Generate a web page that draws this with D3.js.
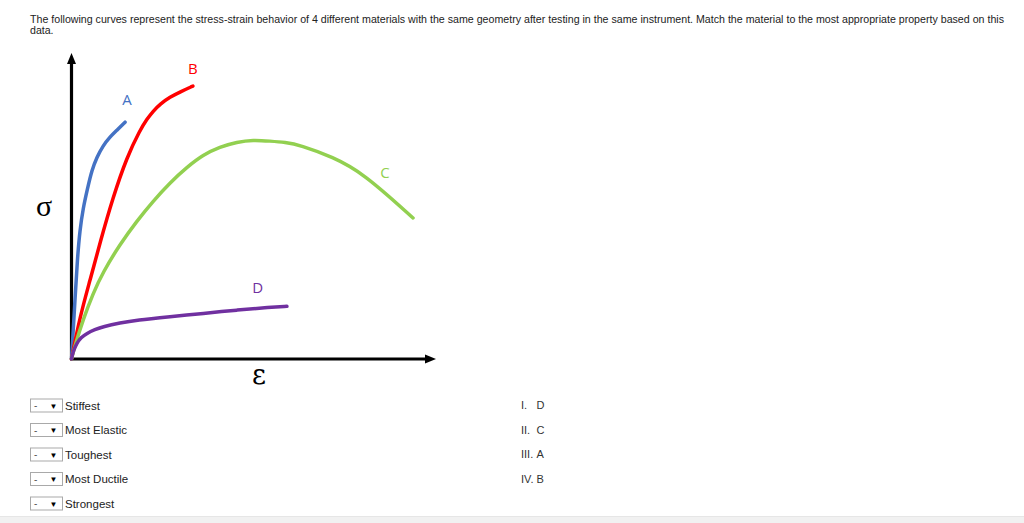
<!DOCTYPE html>
<html>
<head>
<meta charset="utf-8">
<script src="https://cdn.jsdelivr.net/npm/d3@7"></script>
<style>
  body { margin: 0; background: #fff; }
  text { font-family: Arial, "Liberation Sans", sans-serif; }
</style>
</head>
<body>
<script>
// question text
const questionLines = [
  "The following curves represent the stress-strain behavior of 4 different materials with the same geometry after testing in the same instrument. Match the material to the most appropriate property based on this",
  "data."
];

// materials and their curves (strain, stress in arbitrary units 0-100)
const materials = ["A", "B", "C", "D"];
const colors = ["#4472c4", "#ff0000", "#92d050", "#7030a0"];

const strainA = [0, 0.4, 1.0, 1.6, 2.3, 3.2, 4.3, 5.6, 7.0, 8.6, 10.5, 12.5, 14.7];
const stressA = [0, 7.8, 20.3, 32.4, 42.2, 49.3, 55.2, 61.8, 66.0, 69.6, 72.5, 74.8, 77.4];

const strainB = [0, 2.3, 5.1, 7.8, 11.4, 15.2, 18.8, 20.7, 22.4, 24.3, 27.0, 30.0, 33.3];
const stressB = [0, 13.7, 25.8, 37.9, 52.9, 66.0, 74.8, 78.4, 81.0, 83.3, 85.6, 87.4, 89.2];

const strainC = [0, 1.0, 3.2, 5.9, 8.6, 13.3, 18.0, 22.4, 27.0, 31.7, 36.1, 40.7, 45.4, 49.8, 54.5, 58.6, 62.7, 71.7, 80.0, 93.7];
const stressC = [0, 4.6, 12.9, 21.4, 28.3, 37.5, 45.2, 51.6, 57.6, 62.7, 66.7, 69.3, 70.9, 71.6, 71.2, 70.8, 69.9, 66.0, 60.8, 46.1];

const strainD = [0, 0.4, 1.4, 2.6, 4.2, 6.4, 8.7, 13.3, 17.9, 27.0, 36.2, 45.3, 54.5, 59.1];
const stressD = [0, 2.3, 5.1, 7.0, 8.4, 9.6, 10.6, 11.8, 12.7, 13.8, 14.9, 16.0, 16.9, 17.2];

const strains = [strainA, strainB, strainC, strainD];
const stresses = [stressA, stressB, stressC, stressD];

// matching question
const properties = ["Stiffest", "Most Elastic", "Toughest", "Most Ductile", "Strongest"];
const numerals = ["I.", "II.", "III.", "IV."];
const answers = ["D", "C", "A", "B"];

const w = 1024;
const h = 523;
const origin = {x: 71.5, y: 359};

const xScale = d3.scaleLinear().domain([0, 100]).range([origin.x, 436]);
const yScale = d3.scaleLinear().domain([0, 100]).range([origin.y, 53]);

const svg = d3.select("body")
  .append("svg")
    .attr("width", w)
    .attr("height", h);

// question text
svg.selectAll("text.q")
    .data(questionLines)
  .enter().append("text")
    .attr("class", "q")
    .attr("x", 30)
    .attr("y", (d, i) => 23 + i * 11)
    .attr("font-size", 10.6)
    .attr("fill", "#222")
    .attr("textLength", (d, i) => i === 0 ? 974 : null)
    .attr("lengthAdjust", "spacingAndGlyphs")
    .text(d => d);

// axes with arrow heads
const axes = svg.append("g");

axes.append("line")
    .attr("x1", xScale(0)).attr("y1", yScale(0))
    .attr("x2", xScale(0)).attr("y2", yScale(100) + 9)
    .attr("stroke", "#000")
    .attr("stroke-width", 3.2);

axes.append("line")
    .attr("x1", xScale(0) - 1.5).attr("y1", yScale(0))
    .attr("x2", xScale(100) - 9).attr("y2", yScale(0))
    .attr("stroke", "#000")
    .attr("stroke-width", 3.2);

axes.append("path")
    .attr("d", `M${xScale(0)},${yScale(100)} l-4.5,11 l9,0 z`)
    .attr("fill", "#000");

axes.append("path")
    .attr("d", `M${xScale(100)},${yScale(0)} l-11,-4.5 l0,9 z`)
    .attr("fill", "#000");

axes.append("text")
    .attr("x", 44)
    .attr("y", 205)
    .attr("text-anchor", "middle")
    .attr("dominant-baseline", "central")
    .style("font-family", "'Liberation Serif', 'DejaVu Serif', serif")
    .attr("font-size", 30)
    .text("σ");

axes.append("text")
    .attr("x", 259)
    .attr("y", 374)
    .attr("text-anchor", "middle")
    .attr("dominant-baseline", "central")
    .style("font-family", "'DejaVu Serif', serif")
    .attr("font-size", 27)
    .text("ε");

// curves
const line = d3.line()
    .x(d => xScale(d[0]))
    .y(d => yScale(d[1]))
    .curve(d3.curveBasis);

const curveData = materials.map((m, i) => ({
  name: m,
  color: colors[i],
  points: strains[i].map((s, j) => [s, stresses[i][j]])
}));

svg.append("g")
  .selectAll("path")
    .data(curveData)
  .enter().append("path")
    .attr("d", d => line(d.points))
    .attr("fill", "none")
    .attr("stroke", d => d.color)
    .attr("stroke-width", 3.5)
    .attr("stroke-linecap", "round");

// curve labels, offset in px from a chosen point of each curve
const labelAnchor = [{i: 12, dx: 2, dy: -23}, {i: 12, dx: 0, dy: -18},
                     {i: 18, dx: 22, dy: -1}, {i: 11, dx: 21, dy: -23}];

svg.append("g")
  .selectAll("text")
    .data(curveData)
  .enter().append("text")
    .attr("x", (d, k) => xScale(d.points[labelAnchor[k].i][0]) + labelAnchor[k].dx)
    .attr("y", (d, k) => yScale(d.points[labelAnchor[k].i][1]) + labelAnchor[k].dy)
    .attr("text-anchor", "middle")
    .attr("dominant-baseline", "central")
    .style("font-family", "'Open Sans', sans-serif")
    .attr("font-size", 15)
    .attr("fill", d => d.color)
    .text(d => d.name);

// dropdown rows
const rows = svg.append("g")
  .selectAll("g")
    .data(properties)
  .enter().append("g")
    .attr("transform", (d, i) => `translate(0, ${405.5 + i * 24.5})`);

rows.append("rect")
    .attr("x", 30.5).attr("y", -6.5)
    .attr("width", 32).attr("height", 13)
    .attr("fill", "#fff")
    .attr("stroke", "#a9a9a9");

rows.append("text")
    .attr("x", 34).attr("y", 0)
    .attr("dominant-baseline", "central")
    .attr("font-size", 10)
    .attr("fill", "#555")
    .text("-");

rows.append("text")
    .attr("x", 53.5).attr("y", 0.5)
    .attr("text-anchor", "middle")
    .attr("dominant-baseline", "central")
    .attr("font-size", 8)
    .attr("fill", "#000")
    .text("▼");

rows.append("text")
    .attr("x", 65).attr("y", 0)
    .attr("dominant-baseline", "central")
    .attr("font-size", 11.5)
    .attr("fill", "#222")
    .text(d => d);

// answer list
const ans = svg.append("g")
  .selectAll("g")
    .data(answers)
  .enter().append("g")
    .attr("transform", (d, i) => `translate(0, ${405 + i * 24.5})`);

ans.append("text")
    .attr("x", 521).attr("y", 0)
    .attr("dominant-baseline", "central")
    .attr("font-size", 11)
    .attr("fill", "#333")
    .text((d, i) => numerals[i]);

ans.append("text")
    .attr("x", 536.5).attr("y", 0)
    .attr("dominant-baseline", "central")
    .attr("font-size", 11)
    .attr("fill", "#333")
    .text(d => d);

// bottom band
svg.append("rect")
    .attr("x", 0).attr("y", 517)
    .attr("width", w).attr("height", 6)
    .attr("fill", "#f1f1f1");
svg.append("line")
    .attr("x1", 0).attr("x2", w)
    .attr("y1", 516.5).attr("y2", 516.5)
    .attr("stroke", "#e6e6e6");
</script>
</body>
</html>
